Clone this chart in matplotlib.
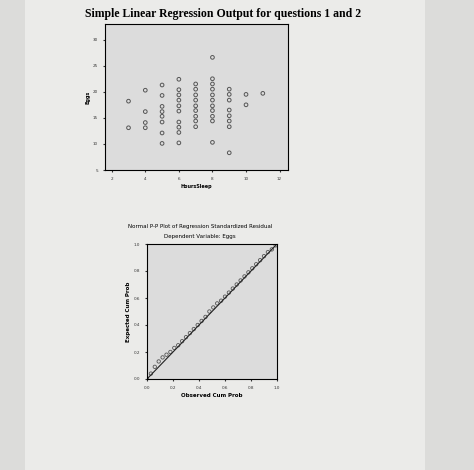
import matplotlib
matplotlib.use("Agg")
import matplotlib.pyplot as plt
from matplotlib.patches import Rectangle

hours = [3,3, 4,4,4,4, 5,5,5,5,5,5,5,5, 6,6,6,6,6,6,6,6,6,6,
         7,7,7,7,7,7,7,7,7, 8,8,8,8,8,8,8,8,8,8,8, 9,9,9,9,9,9,9,9, 10,10, 11]
eggs = [18.2,13.1, 20.3,16.2,14.1,13.1, 21.3,19.3,17.2,16.2,15.3,14.2,12.1,10.1,
        22.4,20.4,19.4,18.4,17.3,16.3,14.2,13.2,12.2,10.2,
        21.5,20.5,19.4,18.4,17.3,16.4,15.3,14.4,13.3,
        26.6,22.5,21.5,20.5,19.4,18.4,17.3,16.4,15.3,14.4,10.3,
        20.5,19.5,18.4,16.5,15.4,14.4,13.3,8.3, 19.5,17.5, 19.7]
pp_obs = [0.0,0.03,0.06,0.09,0.12,0.15,0.18,0.21,0.24,0.27,0.30,0.33,0.36,0.39,0.42,
          0.45,0.48,0.51,0.54,0.57,0.60,0.63,0.66,0.69,0.72,0.75,0.78,0.81,0.84,0.87,
          0.90,0.93,0.96,0.99]
pp_exp = [0.0,0.04,0.09,0.13,0.16,0.18,0.20,0.23,0.25,0.28,0.31,0.34,0.37,0.40,0.43,
          0.46,0.50,0.53,0.56,0.58,0.61,0.64,0.67,0.70,0.73,0.76,0.79,0.82,0.85,0.88,
          0.91,0.94,0.96,0.99]

W, H = 474, 470
fig = plt.figure(figsize=(W/100, H/100), dpi=100, facecolor="#dcdcda")
fig.patches.append(Rectangle((25/W, 0), 400/W, 1, transform=fig.transFigure,
                             facecolor="#ebebe9", edgecolor="none", zorder=-10))
fig.text(85/W, 1-14/H, "Simple Linear Regression Output for questions 1 and 2",
         fontsize=8.5, fontweight="bold", family="Liberation Serif", va="center")

ax = fig.add_axes([105/W, 1-170/H, 183/W, 146/H], facecolor="#dcdcdc")
ax.scatter(hours, eggs, s=7, facecolors="none", edgecolors="#555555", linewidths=0.7)
ax.set_xlim(1.6, 12.5); ax.set_ylim(5, 33)
ax.set_xticks([2,4,6,8,10,12]); ax.set_yticks([5,10,15,20,25,30])
ax.tick_params(labelsize=3, length=1.5, colors="#333333")
ax.set_xlabel("HoursSleep", fontsize=3.5, fontweight="bold", labelpad=2)
ax.set_ylabel("Eggs", fontsize=3.5, fontweight="bold", labelpad=2)

ax2 = fig.add_axes([147/W, 1-379/H, 130/W, 135/H], facecolor="#dcdcdc")
ax2.plot([0,1],[0,1], color="#222222", lw=0.8)
ax2.scatter(pp_obs, pp_exp, s=6, facecolors="none", edgecolors="#555555", linewidths=0.6)
ax2.set_xlim(0,1); ax2.set_ylim(0,1)
t = [0.0,0.2,0.4,0.6,0.8,1.0]
ax2.set_xticks(t); ax2.set_yticks(t)
ax2.set_xticklabels(["0.0","0.2","0.4","0.6","0.8","1.0"])
ax2.set_yticklabels(["0.0","0.2","0.4","0.6","0.8","1.0"])
ax2.tick_params(labelsize=3, length=1.5, colors="#333333")
ax2.set_xlabel("Observed Cum Prob", fontsize=4, fontweight="bold", labelpad=2)
ax2.set_ylabel("Expected Cum Prob", fontsize=4, fontweight="bold", labelpad=2)
fig.text(200/W, 1-228/H, "Normal P-P Plot of Regression Standardized Residual",
         fontsize=4, ha="center")
fig.text(200/W, 1-238/H, "Dependent Variable: Eggs", fontsize=4, ha="center")

fig.savefig("out.png", dpi=100, facecolor=fig.get_facecolor())
